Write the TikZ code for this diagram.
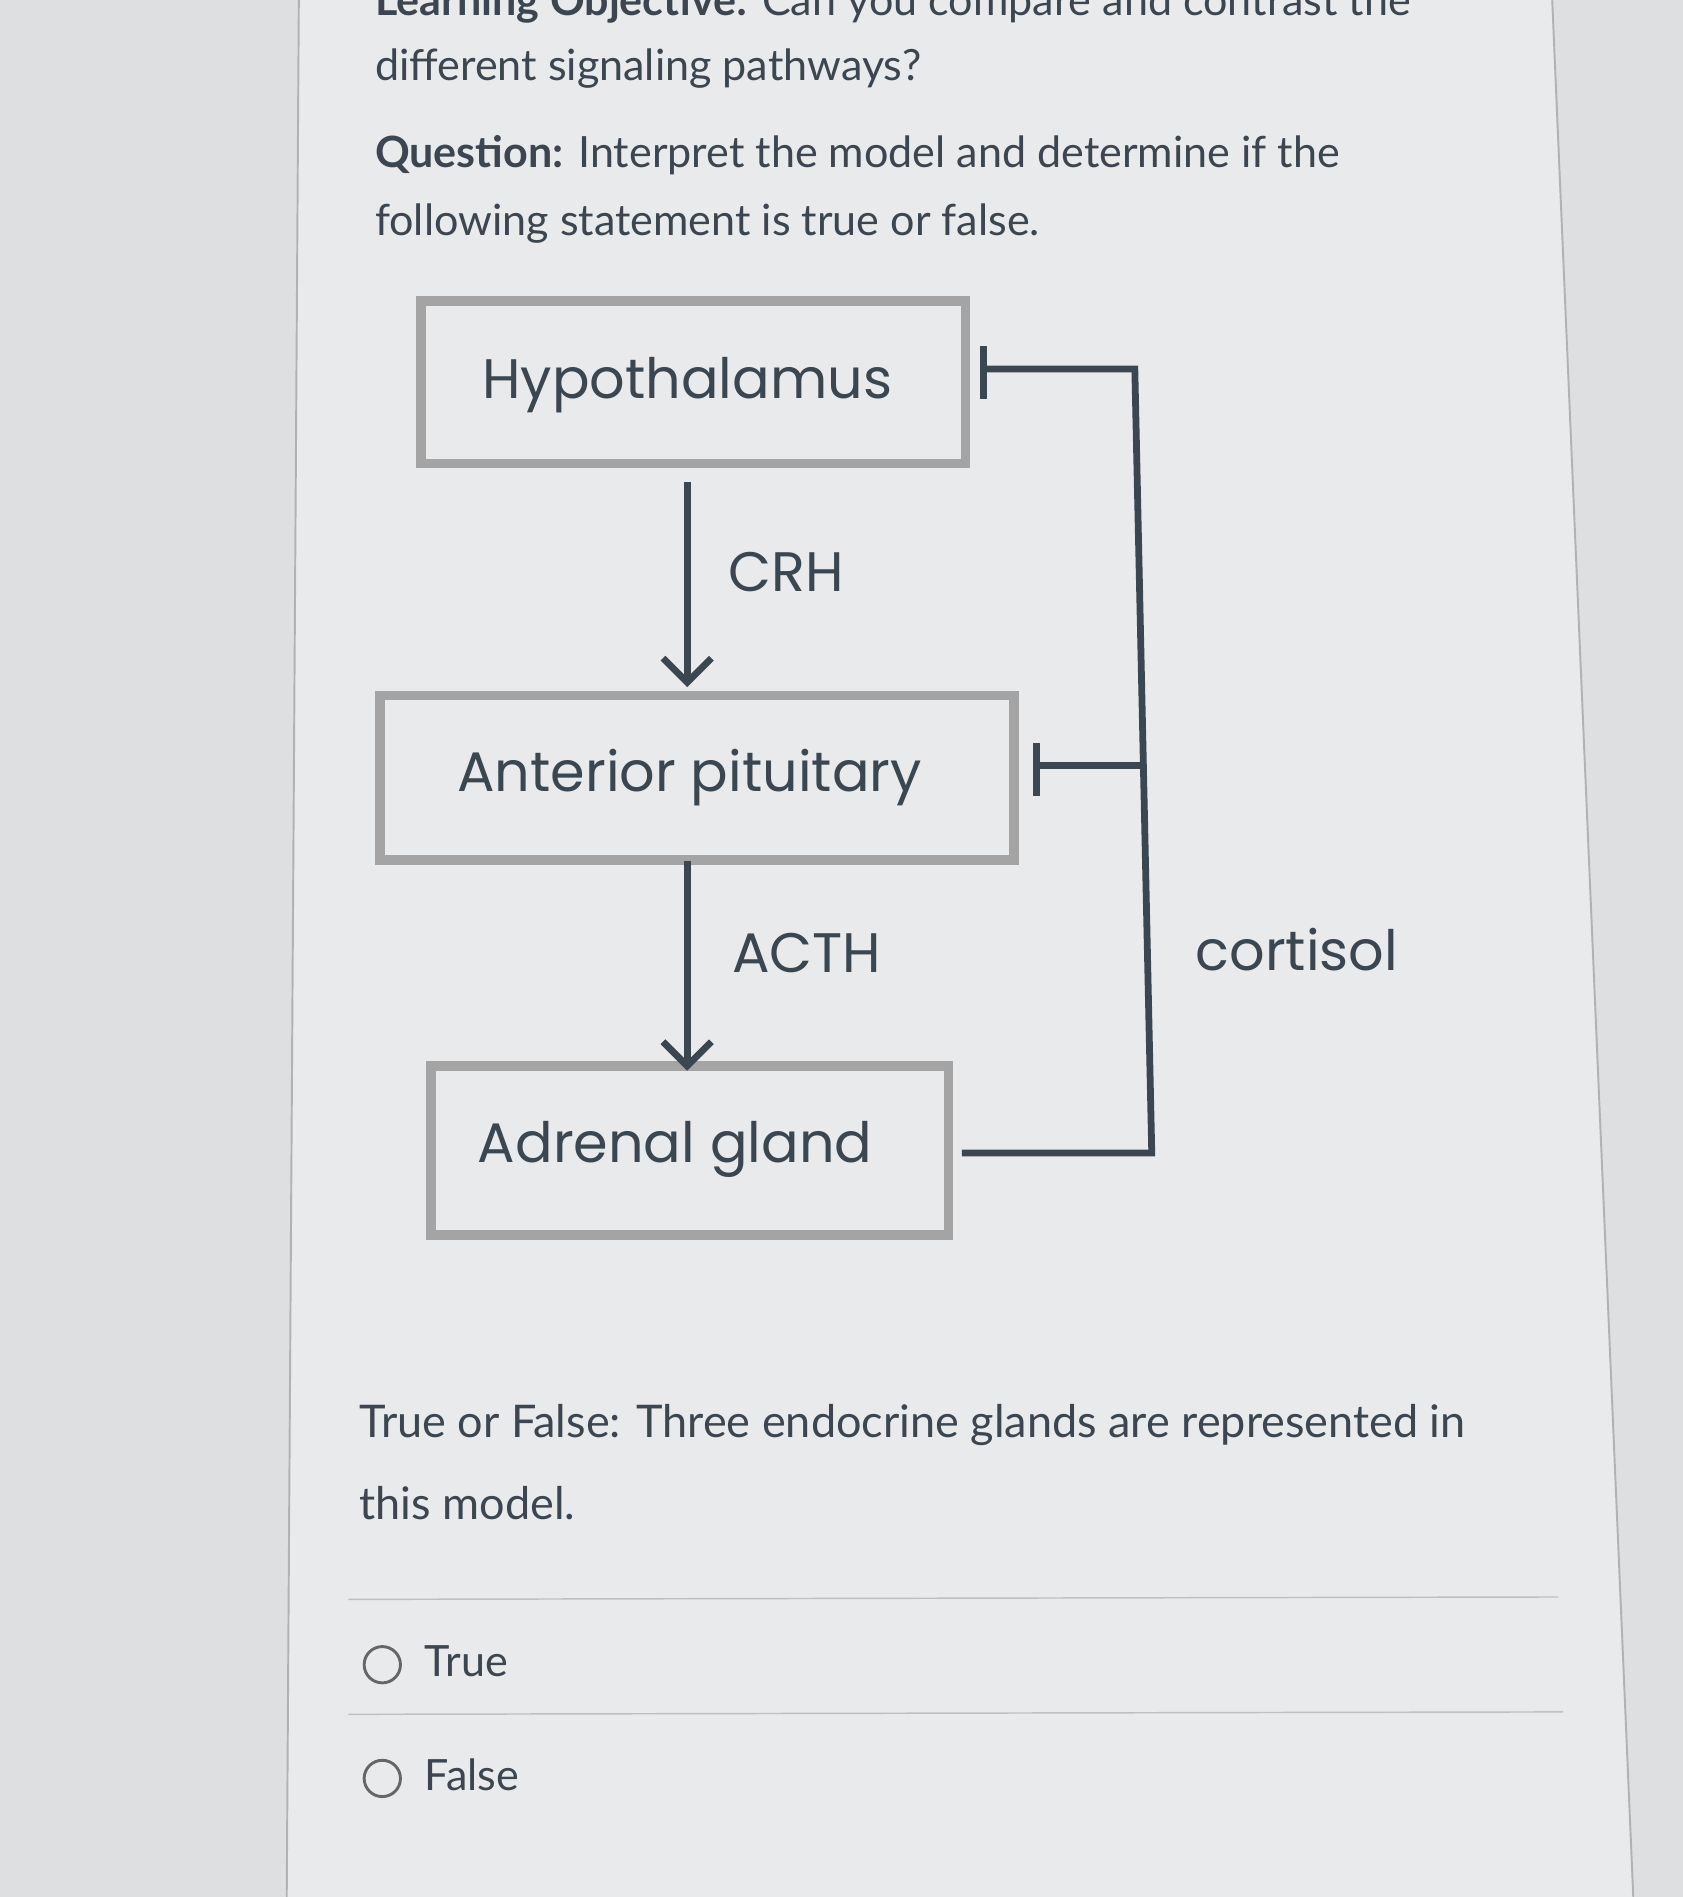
\documentclass[tikz,border=0pt]{standalone}
\usepackage{fontspec}
\setmainfont{Lato}
\newfontfamily\hand{Poppins}
\usetikzlibrary{arrows.meta}
\definecolor{bg}{HTML}{DDDFE1}
\definecolor{card}{HTML}{E9EAEB}
\definecolor{ink}{HTML}{3A4650}
\definecolor{txt}{HTML}{3C4650}
\definecolor{bx}{HTML}{A4A4A4}
\tikzset{
 gbox/.style={draw=bx,line width=4pt},
 hw/.style={font=\hand\fontsize{23}{27}\selectfont,text=ink},
 qt/.style={font=\fontsize{17.8}{21}\selectfont,text=txt,anchor=west},
 qb/.style={font=\fontsize{18.6}{22}\selectfont,text=txt,anchor=west},
 arr/.style={draw=ink,line width=2.8pt,-{Straight Barb[length=10pt,width=20pt,line width=2.8pt]}},
 fb/.style={draw=ink,line width=2.8pt},
}
\begin{document}
\begin{tikzpicture}[x=0.5pt,y=-0.5pt]
\useasboundingbox (0,0) rectangle (1391,1568);
\fill[bg] (0,0) rectangle (1391,1568);
\fill[card] (247,0) -- (1283,0) -- (1350,1568) -- (237,1568) -- cycle;
\draw[gray!60,line width=0.8pt] (247,0) -- (237,1568) (1283,0) -- (1350,1568);
\node[qt] (t0) at (303,3) {\textbf{Learning Objective:} Can you compare and contrast the};
\node[qt] (t1) at (303,57) {different signaling pathways?};
\node[qt] (t2) at (303,128) {\textbf{Question:} Interpret the model and determine if the};
\node[qt] (t3) at (303,185) {following statement is true or false.};
\draw[gbox] (348,249) rectangle (798,383);
\node[hw] (h) at (568,318) {Hypothalamus};
\draw[gbox] (314,575) rectangle (838,711);
\node[hw] (p) at (570,643) {Anterior pituitary};
\draw[gbox] (356,881) rectangle (784,1021);
\node[hw] (a) at (558,950) {Adrenal gland};
\coordinate (c1) at (568,398); \coordinate (c2) at (568,568);
\coordinate (c3) at (568,712); \coordinate (c4) at (568,885);
\draw[arr] (c1) -- (c2);
\draw[arr] (c3) -- (c4);
\node[hw,anchor=west] (crh) at (595,473) {CRH};
\node[hw,anchor=west] (acth) at (598,788) {ACTH};
\node[hw] (cort) at (1072,785) {cortisol};
\coordinate (f1) at (795,953); \coordinate (f2) at (952,953);
\coordinate (f3) at (938,305); \coordinate (f4) at (813,305);
\coordinate (g1) at (945,633); \coordinate (g2) at (857,633);
\draw[fb] (f1) -- (f2) -- (f3) -- (f4);
\draw[fb] (813,286) -- (813,330);
\draw[fb] (g1) -- (g2);
\draw[fb] (857,614) -- (857,658);
\node[qb] (s1) at (290,1178) {True or False: Three endocrine glands are represented in};
\node[qb] (s2) at (290,1242) {this model.};
\draw[gray!50,line width=0.6pt] (288,1322) -- (1288,1320);
\draw[gray!50,line width=0.6pt] (288,1417) -- (1292,1415);
\draw[gray!80!black,line width=1.2pt] (316,1376) circle (15);
\node[qt] (o1) at (344,1373) {True};
\draw[gray!80!black,line width=1.2pt] (316,1470) circle (15);
\node[qt] (o2) at (344,1467) {False};
\end{tikzpicture}
\end{document}
